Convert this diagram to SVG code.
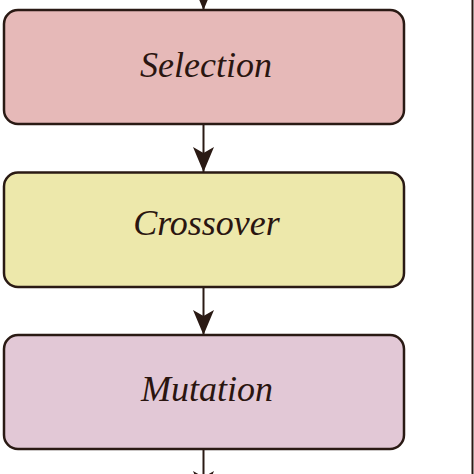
<svg xmlns="http://www.w3.org/2000/svg" width="474" height="474" viewBox="0 0 474 474">
  <defs>
    <marker id="arrow" viewBox="0 0 25 21" markerWidth="25" markerHeight="21" refX="25" refY="10.5" orient="auto" markerUnits="userSpaceOnUse">
      <path d="M0,0 L25,10.5 L0,21 L6,10.5 Z" fill="#2a1a14"/>
    </marker>
  </defs>
  <style>
    .box { stroke: #2a1a14; stroke-width: 2.5; }
    .label { font-family: "Liberation Serif", "Times New Roman", serif; font-style: italic; font-size: 36px; fill: #2a1510; text-anchor: middle; }
    .conn { stroke: #2a1a14; stroke-width: 2; fill: none; }
  </style>
  <rect width="474" height="474" fill="#ffffff"/>
  <g id="connectors">
    <line class="conn" x1="203.5" y1="-30" x2="203.5" y2="10" marker-end="url(#arrow)"/>
    <line class="conn" x1="203.5" y1="124" x2="203.5" y2="172" marker-end="url(#arrow)"/>
    <line class="conn" x1="203.5" y1="287" x2="203.5" y2="335" marker-end="url(#arrow)"/>
    <line class="conn" x1="203.5" y1="449" x2="203.5" y2="496" marker-end="url(#arrow)"/>
    <line class="conn" x1="472.5" y1="0" x2="472.5" y2="474" stroke-width="2.5"/>
  </g>
  <g id="selection">
    <rect class="box" x="4" y="10" width="400" height="114" rx="14" fill="#e6b9b8"/>
    <text class="label" x="206" y="77">Selection</text>
  </g>
  <g id="crossover">
    <rect class="box" x="4" y="172.5" width="400" height="114.5" rx="14" fill="#ede8ab"/>
    <text class="label" x="206.5" y="235">Crossover</text>
  </g>
  <g id="mutation">
    <rect class="box" x="4" y="335" width="400" height="114" rx="14" fill="#e2c8d6"/>
    <text class="label" x="207" y="401">Mutation</text>
  </g>
</svg>
